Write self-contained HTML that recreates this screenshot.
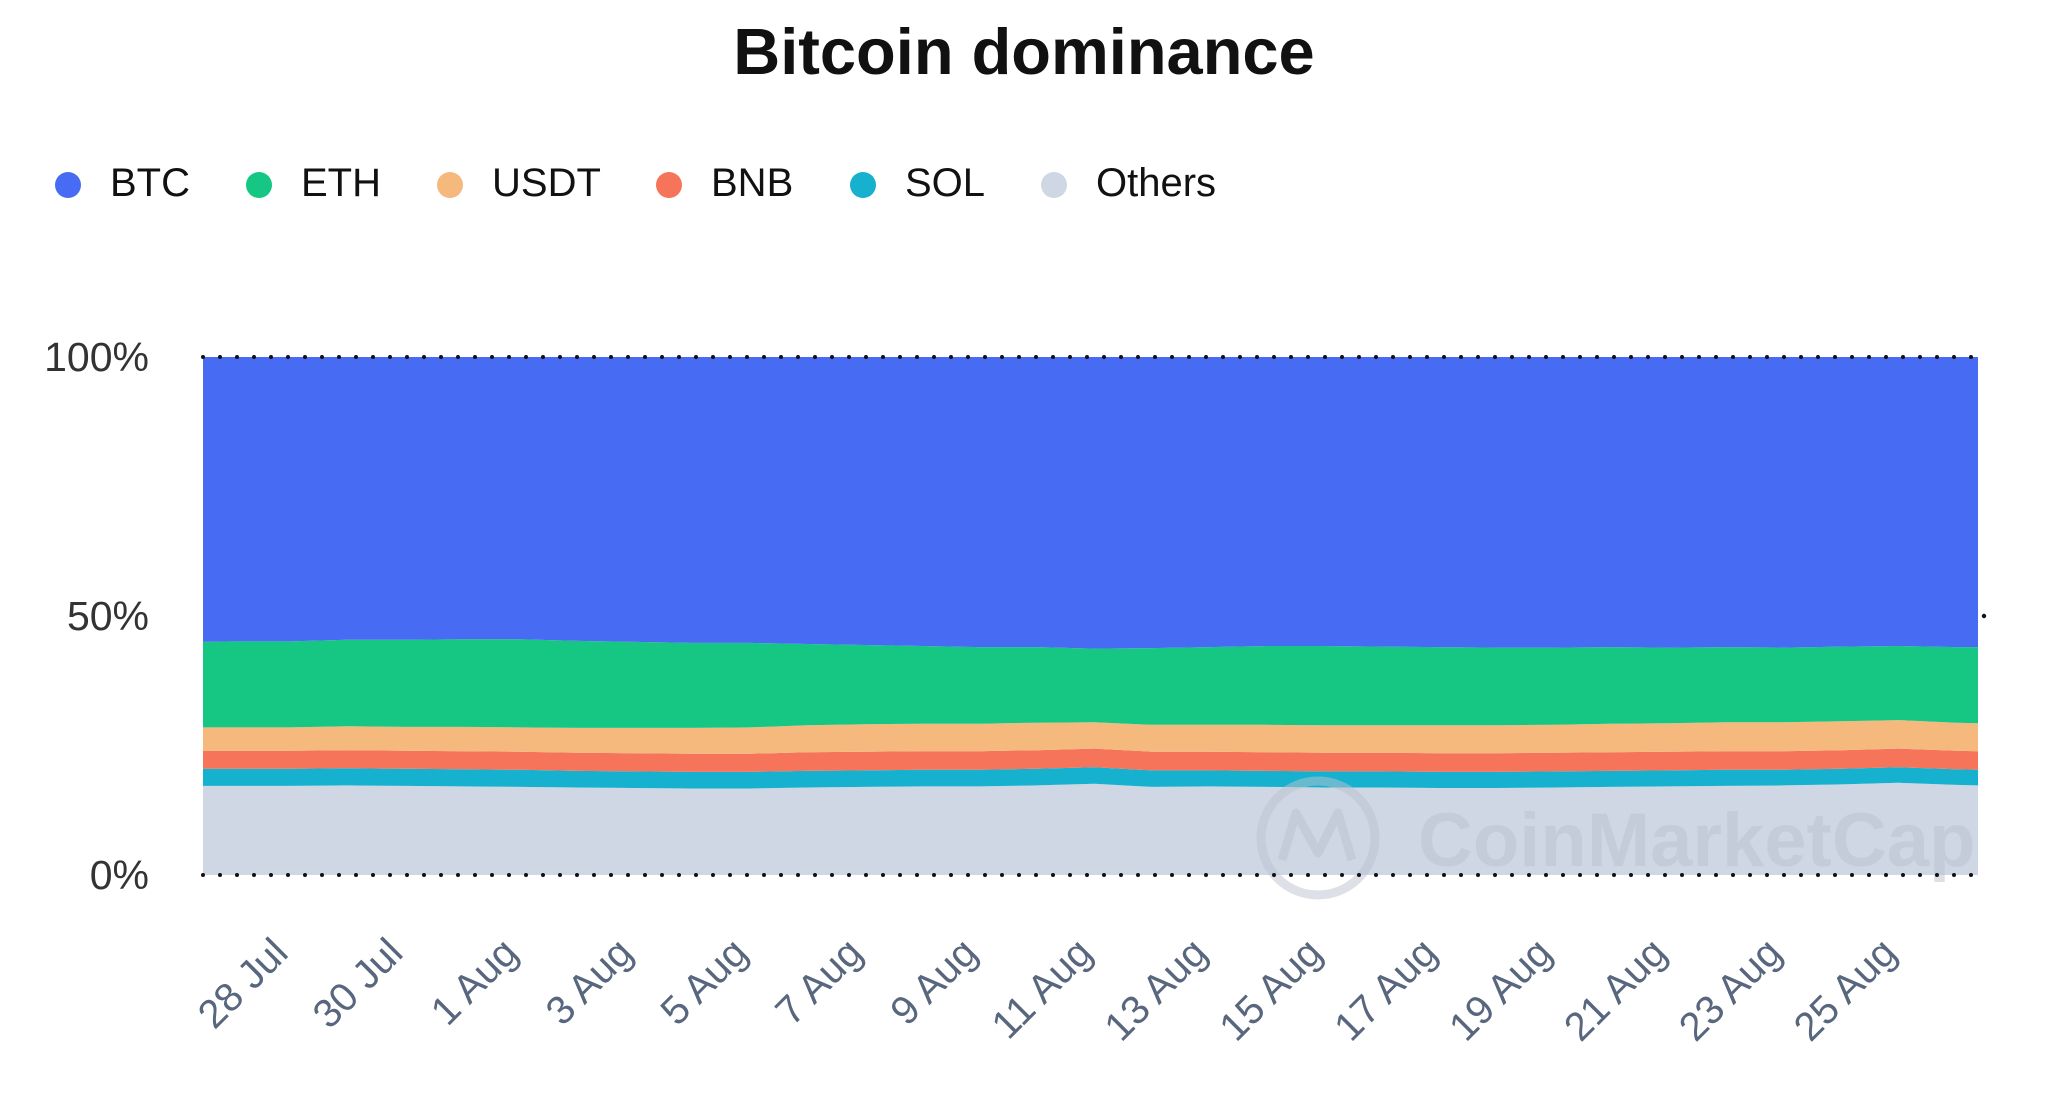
<!DOCTYPE html>
<html><head><meta charset="utf-8"><style>
html,body{margin:0;padding:0;background:#fff;}
body{width:2048px;height:1092px;overflow:hidden;font-family:"Liberation Sans",Arial,sans-serif;}
</style></head><body>
<svg id="chart" width="2048" height="1092" xmlns="http://www.w3.org/2000/svg">
<text x="1024" y="74" text-anchor="middle" font-family="Liberation Sans, Arial, sans-serif" font-weight="bold" font-size="65" fill="#111">Bitcoin dominance</text>
<g id="legend"></g>
<g id="areas"></g>
<g id="watermark" opacity="0.5">
<circle cx="1318" cy="838" r="57" fill="none" stroke="#bcc3cf" stroke-width="9"/>
<path d="M1282 860 L1296 813 L1318 853 L1338 813 L1352 860" fill="none" stroke="#bcc3cf" stroke-width="9" stroke-linejoin="round"/>
<text x="1418" y="866" font-family="Liberation Sans, Arial, sans-serif" font-weight="bold" font-size="76" fill="#bcc3cf">CoinMarketCap</text>
</g>
<g id="grid"></g>
<g id="yaxis"></g>
<g id="xaxis"></g>
</svg>
<script>
const dates = ["26 Jul","27 Jul","28 Jul","29 Jul","30 Jul","31 Jul","1 Aug","2 Aug","3 Aug","4 Aug","5 Aug","6 Aug","7 Aug","8 Aug","9 Aug","10 Aug","11 Aug","12 Aug","13 Aug","14 Aug","15 Aug","16 Aug","17 Aug","18 Aug","19 Aug","20 Aug","21 Aug","22 Aug","23 Aug","24 Aug","25 Aug","26 Aug","27 Aug"];
const xTickLabels = ["28 Jul","30 Jul","1 Aug","3 Aug","5 Aug","7 Aug","9 Aug","11 Aug","13 Aug","15 Aug","17 Aug","19 Aug","21 Aug","23 Aug","25 Aug"];
const yTicks = [0,50,100];
const seriesNames = ["Others","SOL","BNB","USDT","ETH","BTC"];
const others = [17.2,17.2,17.2,17.3,17.2,17.1,17.0,16.9,16.8,16.7,16.7,16.9,17.0,17.1,17.1,17.3,17.6,17.0,17.1,17.0,16.9,16.9,16.8,16.8,16.9,17.0,17.1,17.2,17.3,17.5,17.8,17.4,17.3];
const sol = [3.3,3.3,3.3,3.3,3.3,3.3,3.3,3.2,3.2,3.2,3.2,3.2,3.2,3.2,3.2,3.2,3.2,3.2,3.1,3.1,3.1,3.1,3.1,3.1,3.1,3.1,3.1,3.1,3.0,3.0,3.0,3.0,3.0];
const bnb = [3.5,3.5,3.5,3.5,3.5,3.5,3.5,3.5,3.5,3.5,3.5,3.6,3.6,3.6,3.6,3.6,3.6,3.6,3.6,3.6,3.6,3.6,3.6,3.6,3.6,3.6,3.6,3.6,3.6,3.6,3.6,3.6,3.6];
const usdt = [4.5,4.5,4.5,4.6,4.6,4.7,4.7,4.8,4.9,5.0,5.1,5.2,5.3,5.3,5.3,5.3,5.1,5.2,5.2,5.3,5.3,5.3,5.4,5.4,5.4,5.5,5.5,5.6,5.6,5.6,5.5,5.4,5.4];
const eth = [16.5,16.6,16.6,16.7,16.8,16.9,17.0,16.8,16.6,16.4,16.3,15.7,15.3,15.0,14.8,14.6,14.2,14.8,15.0,15.2,15.3,15.2,15.1,15.0,14.9,14.8,14.6,14.5,14.4,14.4,14.3,14.6,14.7];
const btc = [55.0,54.9,54.9,54.6,54.6,54.5,54.5,54.8,55.0,55.2,55.2,55.4,55.6,55.8,56.0,56.0,56.3,56.2,56.0,55.8,55.8,55.9,56.0,56.1,56.1,56.0,56.1,56.0,56.1,55.9,55.8,56.0,56.0];
const seriesData = [others,sol,bnb,usdt,eth,btc];
const colors = ["#cfd6e4","#16b1cf","#f6745a","#f5b97d","#16c784","#476cf3"];
const legendNames = ["BTC","ETH","USDT","BNB","SOL","Others"];
const legendColors = ["#476cf3","#16c784","#f5b97d","#f6745a","#16b1cf","#cfd6e4"];

const NS="http://www.w3.org/2000/svg";
const L=203,R=1978,T=357,B=875;
const dayW = 114.9/2;
const x0 = 290 - 2*dayW; // 26 Jul position
function xScale(i){return Math.min(R,Math.max(L, x0 + i*dayW));}
function yScale(v){return B-(B-T)*v/100;}
function mk(tag,attrs,parent){const e=document.createElementNS(NS,tag);for(const k in attrs)e.setAttribute(k,attrs[k]);parent.appendChild(e);return e;}

const areas=document.getElementById('areas');
const n=dates.length;
const totals=dates.map((d,i)=>seriesData.reduce((s,a)=>s+a[i],0));
let base=new Array(n).fill(0);
seriesData.forEach((arr,si)=>{
  const top=base.map((b,i)=>b+arr[i]/totals[i]*100);
  const xs=dates.map((d,i)=>i===0?L:(i===n-1?R:xScale(i)));
  let dstr="M"+xs.map((x,i)=>x.toFixed(1)+","+yScale(top[i]).toFixed(1)).join(" L");
  for(let i=n-1;i>=0;i--) dstr+=" L"+xs[i].toFixed(1)+","+yScale(base[i]).toFixed(1);
  dstr+=" Z";
  const p=mk('path',{d:dstr,fill:colors[si]},areas);
  
  
  base=top;
});

const grid=document.getElementById('grid');
[100,0].forEach(v=>{
  const l=mk('line',{x1:L,x2:R+8,y1:yScale(v),y2:yScale(v),stroke:"#111","stroke-width":4,"stroke-dasharray":"0 17","stroke-linecap":"round"},grid);
  
  
});
const dot=mk('circle',{cx:R+6,cy:yScale(50),r:2.2,fill:"#111"},grid);



const yax=document.getElementById('yaxis');
yTicks.forEach(v=>{
  const t=mk('text',{x:149,y:yScale(v)+14,"text-anchor":"end","font-size":41,fill:"#333","font-family":"Liberation Sans, Arial, sans-serif"},yax);
  t.textContent=v+"%";
  
  
});

const xax=document.getElementById('xaxis');
xTickLabels.forEach(lbl=>{
  const i=dates.indexOf(lbl);
  const x=xScale(i), y=955;
  const t=mk('text',{x:x,y:y,"text-anchor":"end","font-size":40,fill:"#58667e","font-family":"Liberation Sans, Arial, sans-serif",transform:"rotate(-45 "+x+" "+y+")"},xax);
  t.textContent=lbl;
  
  
});

const leg=document.getElementById('legend');
const legX=[68,259,450,669,863,1054];
legendNames.forEach((nm,i)=>{
  const g=mk('g',{},leg);
  
  
  mk('circle',{cx:legX[i],cy:185,r:13,fill:legendColors[i]},g);
  const t=mk('text',{x:legX[i]+42,y:196,"font-size":40,fill:"#111","font-family":"Liberation Sans, Arial, sans-serif"},g);
  t.textContent=nm;
});
</script>
</body></html>
